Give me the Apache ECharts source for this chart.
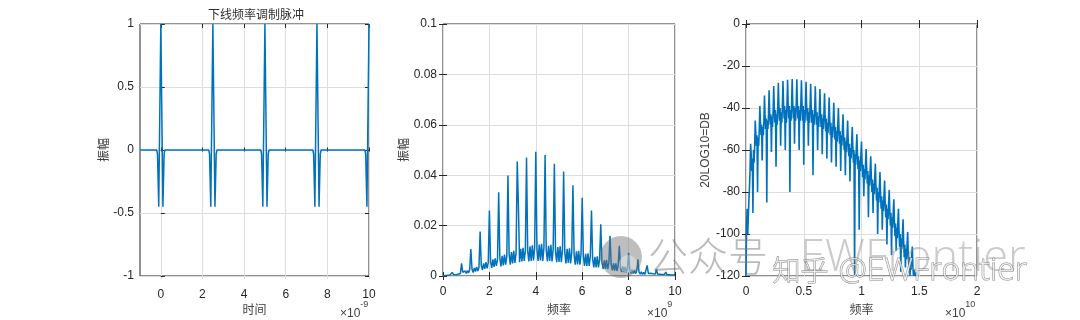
<!DOCTYPE html>
<html>
<head>
<meta charset="utf-8">
<script src="https://cdn.jsdelivr.net/npm/echarts@6/dist/echarts.min.js"></script>
<style>
html,body{margin:0;padding:0;background:#fff;}
#c{width:1080px;height:320px;}
</style>
</head>
<body>
<div id="c"></div>
<script>
// ---------- Panel 1: pulse train (time in units of 1e-9 s) ----------
const time1 = [-1, -0.2, -0.16, -0.1, 0, 0.1, 0.16, 0.2,
  2.3, 2.34, 2.4, 2.5, 2.6, 2.66, 2.7,
  4.8, 4.84, 4.9, 5.0, 5.1, 5.16, 5.2,
  7.3, 7.34, 7.4, 7.5, 7.6, 7.66, 7.7,
  9.8, 9.84, 9.9, 10];
const amp1 = [0, 0, -0.03, -0.45, 1, -0.45, -0.03, 0,
  0, -0.03, -0.45, 1, -0.45, -0.03, 0,
  0, -0.03, -0.45, 1, -0.45, -0.03, 0,
  0, -0.03, -0.45, 1, -0.45, -0.03, 0,
  0, -0.03, -0.45, 1];
const xRange1 = [-1, 10];
const xTickRange1 = [0, 10];   // MATLAB ticks 0,2,...,10 (axis starts at -1)

// ---------- Panel 2: linear spectrum (freq in units of 1e9 Hz, sampled every 0.05) ----------
// each row = one 0.4 interval: [harmonic peak, 7 floor samples]
const amp2Rows = [
  [0,      0.0004, 0.0002, 0.0006, 0.0003, 0.0007, 0.0004, 0.0008],
  [0.0014, 0.0006, 0.0010, 0.0005, 0.0012, 0.0007, 0.0014, 0.0010],
  [0.0050, 0.0015, 0.0008, 0.0020, 0.0010, 0.0022, 0.0012, 0.0025],
  [0.0107, 0.0028, 0.0014, 0.0032, 0.0018, 0.0036, 0.0020, 0.0034],
  [0.0176, 0.0042, 0.0024, 0.0050, 0.0028, 0.0055, 0.0030, 0.0052],
  [0.0260, 0.0058, 0.0032, 0.0066, 0.0036, 0.0070, 0.0040, 0.0065],
  [0.0332, 0.0070, 0.0038, 0.0080, 0.0042, 0.0085, 0.0045, 0.0078],
  [0.0399, 0.0085, 0.0045, 0.0095, 0.0050, 0.0100, 0.0052, 0.0092],
  [0.0454, 0.0280, 0.0055, 0.0108, 0.0058, 0.0112, 0.0060, 0.0100],
  [0.0470, 0.0100, 0.0058, 0.0118, 0.0060, 0.0122, 0.0062, 0.0110],
  [0.0493, 0.0105, 0.0060, 0.0125, 0.0062, 0.0128, 0.0060, 0.0112],
  [0.0480, 0.0102, 0.0058, 0.0120, 0.0060, 0.0124, 0.0058, 0.0108],
  [0.0445, 0.0098, 0.0055, 0.0115, 0.0056, 0.0118, 0.0055, 0.0102],
  [0.0415, 0.0092, 0.0050, 0.0108, 0.0052, 0.0110, 0.0050, 0.0095],
  [0.0360, 0.0085, 0.0045, 0.0098, 0.0046, 0.0100, 0.0045, 0.0088],
  [0.0310, 0.0078, 0.0040, 0.0088, 0.0040, 0.0090, 0.0040, 0.0078],
  [0.0260, 0.0068, 0.0034, 0.0076, 0.0034, 0.0078, 0.0034, 0.0066],
  [0.0205, 0.0056, 0.0028, 0.0062, 0.0028, 0.0064, 0.0027, 0.0052],
  [0.0160, 0.0045, 0.0022, 0.0050, 0.0021, 0.0050, 0.0020, 0.0040],
  [0.0120, 0.0034, 0.0016, 0.0038, 0.0015, 0.0036, 0.0014, 0.0030],
  [0.0092, 0.0024, 0.0010, 0.0026, 0.0010, 0.0024, 0.0009, 0.0020],
  [0.0066, 0.0016, 0.0007, 0.0017, 0.0006, 0.0015, 0.0006, 0.0013],
  [0.0042, 0.0010, 0.0004, 0.0011, 0.0004, 0.0009, 0.0004, 0.0008],
  [0.0027, 0.0007, 0.0003, 0.0007, 0.0003, 0.0006, 0.0003, 0.0006],
  [0.0016, 0.0005, 0.0002, 0.0005, 0.0002, 0.0004, 0.0002, 0.0004],
  [0.0006]
];
const step2 = 0.05;

// ---------- Panel 3: dB spectrum (freq in units of 1e10 Hz, sampled every 0.005) ----------
// each row = one 0.04 interval: [peak, band..., trough, band...]
const db3Rows = [
  [-120, -95, -88, -100, -92, -84, -78, -70],
  [-57, -62, -70, -64, -90, -60, -66, -58],
  [-46, -52, -58, -53, -80, -54, -58, -50],
  [-39, -47, -53, -48, -65, -49, -53, -46],
  [-34, -44, -50, -45, -85, -46, -50, -43],
  [-31.5, -42, -48, -43, -61, -44, -49, -41],
  [-29.5, -40, -47, -41, -68, -43, -48, -40],
  [-28, -39, -46, -40, -58, -42, -47, -39],
  [-27.2, -38, -45, -39, -60, -41, -47, -38],
  [-26.6, -38, -45, -39, -80, -41, -46, -38],
  [-26.2, -38, -45, -39, -57, -40, -46, -38],
  [-26.3, -38, -45, -39, -60, -41, -46, -38],
  [-26.8, -38, -46, -39, -67, -41, -47, -39],
  [-27.5, -39, -46, -40, -58, -42, -47, -39],
  [-28.5, -40, -47, -41, -72, -43, -48, -40],
  [-29.6, -41, -48, -42, -60, -44, -49, -41],
  [-31, -42, -49, -43, -62, -45, -50, -42],
  [-33, -44, -51, -45, -64, -47, -52, -44],
  [-35, -46, -53, -47, -66, -49, -54, -46],
  [-37.5, -48, -55, -49, -68, -51, -56, -48],
  [-40, -50, -57, -51, -70, -53, -58, -50],
  [-43, -53, -60, -54, -72, -56, -61, -53],
  [-46, -56, -63, -57, -75, -59, -64, -56],
  [-49, -59, -66, -60, -120, -62, -67, -59],
  [-52.5, -62, -69, -63, -98, -65, -70, -62],
  [-56, -66, -73, -67, -82, -69, -74, -66],
  [-59.5, -69, -76, -70, -92, -72, -77, -69],
  [-63, -73, -80, -74, -90, -76, -81, -73],
  [-66.5, -77, -84, -78, -100, -80, -85, -77],
  [-70.5, -81, -88, -82, -98, -84, -89, -81],
  [-74.5, -85, -92, -86, -105, -88, -93, -85],
  [-79, -89, -96, -90, -110, -92, -97, -89],
  [-83.5, -94, -101, -95, -108, -97, -102, -94],
  [-88, -99, -106, -100, -118, -102, -107, -99],
  [-93, -104, -111, -105, -116, -107, -112, -104],
  [-99, -110, -116, -111, -120, -113, -117, -110],
  [-106, -116, -120, -117, -120, -119, -120, -118],
  [-120]
];
const step3 = 0.005;

// ---------- build series data ----------
const data1 = time1.map((t, i) => [t, amp1[i]]);
const amp2 = amp2Rows.flat();
const data2 = amp2.map((v, i) => [+(i * step2).toFixed(3), v]);
const db3 = db3Rows.flat();
const data3 = db3.map((v, i) => [+(i * step3).toFixed(3), v]);

const FONT = '"Liberation Sans", Arial, sans-serif';
const CJK = '"Noto Sans CJK SC", sans-serif';
const AX = '#262626';
const GRIDC = '#dedede';
const LINE = '#0072BD';

const grids = [
  {left: 140, top: 24, width: 229, height: 255},
  {left: 443, top: 24, width: 232, height: 255},
  {left: 746, top: 24, width: 231, height: 255}
];
// auxiliary grid for panel 1 tick marks (covers 0..10 of the -1..10 axis)
const g0 = grids[0];
const auxLeft = g0.left + g0.width * (xTickRange1[0] - xRange1[0]) / (xRange1[1] - xRange1[0]);
const auxGrid = {left: auxLeft, top: g0.top, width: g0.left + g0.width - auxLeft, height: g0.height,
  show: false};

function bottomAxis(g, min, max, interval, name, opts) {
  opts = opts || {};
  return {
    type: 'value', gridIndex: g, min, max, interval, position: 'bottom',
    name, nameLocation: 'middle', nameGap: 27,
    nameTextStyle: {fontFamily: CJK, fontSize: 12, color: '#404040'},
    axisLine: {show: false},
    axisTick: {show: opts.ticks !== false, inside: true, length: 4, lineStyle: {color: AX}},
    axisLabel: {show: opts.labels !== false, margin: 10, color: AX, fontSize: 12, fontFamily: FONT},
    splitLine: {show: opts.split !== false, lineStyle: {color: GRIDC, width: 1}}
  };
}
function topAxis(g, min, max, interval) {
  return {
    type: 'value', gridIndex: g, min, max, interval, position: 'top',
    axisLine: {show: false},
    axisTick: {show: true, inside: true, length: 4, lineStyle: {color: AX}},
    axisLabel: {show: false},
    splitLine: {show: false}
  };
}
function leftAxis(g, min, max, interval, name, gap, nameFont) {
  return {
    type: 'value', gridIndex: g, min, max, interval, position: 'left',
    name, nameLocation: 'middle', nameGap: gap, nameRotate: 90,
    nameTextStyle: {fontFamily: nameFont, fontSize: 12, color: '#404040'},
    axisLine: {show: false},
    axisTick: {show: true, inside: true, length: 4, lineStyle: {color: AX}},
    axisLabel: {show: true, margin: 6, color: AX, fontSize: 12, fontFamily: FONT},
    splitLine: {show: true, lineStyle: {color: GRIDC, width: 1}}
  };
}
function rightAxis(g, min, max, interval) {
  return {
    type: 'value', gridIndex: g, min, max, interval, position: 'right',
    axisLine: {show: false},
    axisTick: {show: true, inside: true, length: 4, lineStyle: {color: AX}},
    axisLabel: {show: false},
    splitLine: {show: false}
  };
}

const supRich = {
  a: {fontFamily: FONT, fontSize: 12, fill: '#404040', padding: [8, 0, 0, 0]},
  s: {fontFamily: FONT, fontSize: 9, fill: '#404040', verticalAlign: 'top'}
};

const option = {
  animation: false,
  backgroundColor: '#ffffff',
  grid: grids.map(g => Object.assign({show: true, borderColor: AX, borderWidth: 1, backgroundColor: 'transparent'}, g))
    .concat([auxGrid]),
  xAxis: [
    bottomAxis(0, xRange1[0], xRange1[1], 1, '时间', {ticks: false, labels: false, split: false}),
    bottomAxis(1, 0, 10, 2, '频率'),
    bottomAxis(2, 0, 2, 0.5, '频率'),
    bottomAxis(3, xTickRange1[0], xTickRange1[1], 2, ''),
    topAxis(3, xTickRange1[0], xTickRange1[1], 2),
    topAxis(1, 0, 10, 2),
    topAxis(2, 0, 2, 0.5)
  ],
  yAxis: [
    leftAxis(0, -1, 1, 0.5, '振幅', 30, CJK),
    leftAxis(1, 0, 0.1, 0.02, '振幅', 33, CJK),
    leftAxis(2, -120, 0, 20, '20LOG10=DB', 32, FONT),
    rightAxis(0, -1, 1, 0.5),
    rightAxis(1, 0, 0.1, 0.02),
    rightAxis(2, -120, 0, 20),
    {type: 'value', gridIndex: 3, min: -1, max: 1, show: false}
  ],
  series: [
    {type: 'line', xAxisIndex: 0, yAxisIndex: 0, data: data1, symbol: 'none',
      lineStyle: {color: LINE, width: 1.5}, z: 3},
    {type: 'line', xAxisIndex: 1, yAxisIndex: 1, data: data2, symbol: 'none',
      lineStyle: {color: LINE, width: 1.5}, z: 3},
    {type: 'line', xAxisIndex: 2, yAxisIndex: 2, data: data3, symbol: 'none',
      lineStyle: {color: LINE, width: 1.6}, z: 3}
  ],
  graphic: [
    {type: 'text', left: 208, top: 8, z: 10,
      style: {text: '下线频率调制脉冲', fontFamily: CJK, fontSize: 12, fill: '#303030'}},
    {type: 'text', left: 340, top: 300, z: 10,
      style: {text: '{a|×10}{s|-9}', rich: supRich}},
    {type: 'text', left: 647, top: 300, z: 10,
      style: {text: '{a|×10}{s|9}', rich: supRich}},
    {type: 'text', left: 945, top: 300, z: 10,
      style: {text: '{a|×10}{s|10}', rich: supRich}},
    // watermark
    {type: 'circle', shape: {cx: 621, cy: 257, r: 21}, z: 20,
      style: {fill: 'rgba(110,110,110,0.45)'}},
    {type: 'circle', shape: {cx: 628, cy: 264, r: 9}, z: 21,
      style: {fill: 'rgba(255,255,255,0.35)'}},
    {type: 'text', left: 648, top: 236, z: 20,
      style: {text: '公众号', fontFamily: CJK, fontWeight: 300,
        fontSize: 40, fill: 'rgba(120,120,120,0.5)'}},
    {type: 'text', left: 800, top: 236, z: 20,
      style: {text: 'EWFrontier', fontFamily: '"Open Sans", sans-serif', fontWeight: 300,
        fontSize: 45, fill: 'rgba(140,140,140,0.45)'}},
    {type: 'text', left: 772, top: 256, z: 22,
      style: {text: '知乎', fontFamily: CJK, fontWeight: 300,
        fontSize: 28, fill: 'rgba(255,255,255,0.75)', stroke: 'rgba(90,90,90,0.7)', lineWidth: 1}},
    {type: 'text', left: 838, top: 254, z: 22,
      style: {text: '@EWFrontier', fontFamily: '"Open Sans", sans-serif', fontWeight: 300,
        fontSize: 32, fill: 'rgba(255,255,255,0.75)', stroke: 'rgba(90,90,90,0.7)', lineWidth: 1}}
  ]
};

const chart = echarts.init(document.getElementById('c'), null, {renderer: 'canvas'});
chart.setOption(option);
</script>
</body>
</html>
